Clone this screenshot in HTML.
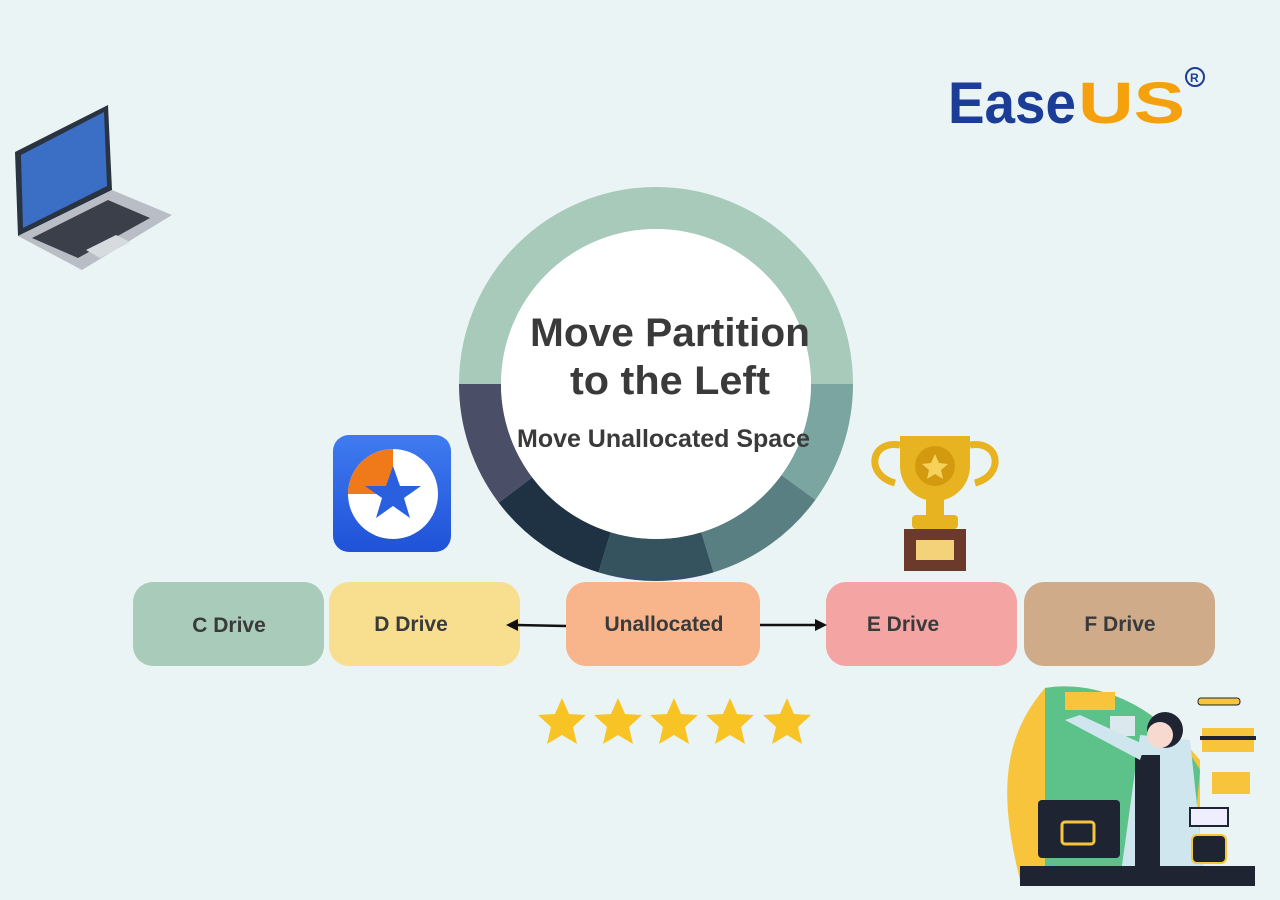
<!DOCTYPE html>
<html><head><meta charset="utf-8"><style>
html,body{margin:0;padding:0;background:#ebf4f5;}
svg{display:block}
text{font-family:"Liberation Sans",sans-serif;font-weight:bold}
</style></head><body>
<svg width="1280" height="900" viewBox="0 0 1280 900" xmlns="http://www.w3.org/2000/svg">
<rect width="1280" height="900" fill="#ebf4f5"/>
<!-- logo -->
<text x="948" y="123" font-size="58" fill="#1c3d97" style="font-weight:900" textLength="128" lengthAdjust="spacingAndGlyphs">Ease</text>
<text x="1078" y="123" font-size="58" fill="#f5a00d" style="font-weight:900" textLength="107" lengthAdjust="spacingAndGlyphs">US</text>
<circle cx="1195" cy="77" r="9" fill="none" stroke="#1c3d97" stroke-width="2"/>
<text x="1190" y="82" font-size="12" fill="#1c3d97">R</text>
<!-- laptop -->
<polygon points="15,152 108,105 112,190 18,236" fill="#2a3340"/>
<polygon points="21,155 104,112 107,186 23,228" fill="#3b6fc6"/>
<polygon points="18,236 112,190 172,215 82,270" fill="#b9bec6"/>
<polygon points="32,238 108,200 150,218 78,258" fill="#3a3f49"/>
<polygon points="86,250 116,235 130,242 100,258" fill="#d7dbe0"/>
<!-- ring -->
<g fill="none" stroke-width="42">
<path d="M480,384 A176,176 0 0 1 832,384" stroke="#a8cabb"/>
<path d="M832,384 A176,176 0 0 1 798.4,487.5" stroke="#7aa5a0"/>
<path d="M798.4,487.5 A176,176 0 0 1 707.4,552.3" stroke="#5a7f82"/>
<path d="M707.4,552.3 A176,176 0 0 1 604.6,552.3" stroke="#35535f"/>
<path d="M604.6,552.3 A176,176 0 0 1 515.4,490" stroke="#1f3244"/>
<path d="M515.4,490 A176,176 0 0 1 480,384" stroke="#4a4e66"/>
</g>
<circle cx="656" cy="384" r="155" fill="#fff"/>
<text x="530" y="346" font-size="40" fill="#3a3a3a" textLength="280" lengthAdjust="spacingAndGlyphs">Move Partition</text>
<text x="570" y="394" font-size="40" fill="#3a3a3a" textLength="200" lengthAdjust="spacingAndGlyphs">to the Left</text>
<text x="517" y="447" font-size="25" fill="#3a3a3a" textLength="293" lengthAdjust="spacingAndGlyphs">Move Unallocated Space</text>
<!-- app icon -->
<defs><linearGradient id="bg" x1="0" y1="0" x2="0" y2="1"><stop offset="0" stop-color="#3f7bf0"/><stop offset="1" stop-color="#1f52d8"/></linearGradient></defs>
<rect x="333" y="435" width="118" height="117" rx="16" fill="url(#bg)"/>
<circle cx="393" cy="494" r="45" fill="#fff"/>
<path d="M393,494 L348,494 A45,45 0 0 1 393,449 Z" fill="#f07a1a"/>
<polygon points="393,466 400,486 421,486 404,498 410,518 393,506 376,518 382,498 365,486 386,486" fill="#2a60e0"/>
<!-- trophy -->
<path d="M900,436 h70 v30 a35,35 0 0 1 -70,0 z" fill="#e8b320"/>
<circle cx="935" cy="466" r="20" fill="#d39a10"/>
<polygon points="935,454 939,463 948,464 941,470 943,479 935,474 927,479 929,470 922,464 931,463" fill="#f6d25a"/>
<path d="M900,445 c-30,-5 -35,30 -5,38" fill="none" stroke="#e8b320" stroke-width="7"/>
<path d="M970,445 c30,-5 35,30 5,38" fill="none" stroke="#e8b320" stroke-width="7"/>
<rect x="926" y="500" width="18" height="20" fill="#e8b320"/>
<rect x="912" y="515" width="46" height="14" rx="4" fill="#e8b320"/>
<rect x="904" y="529" width="62" height="42" fill="#6b3a2a"/>
<rect x="916" y="540" width="38" height="20" fill="#f4d27a"/>
<!-- drives -->
<rect x="133" y="582" width="191" height="84" rx="20" fill="#a9cbb9"/>
<rect x="329" y="582" width="191" height="84" rx="20" fill="#f7df8f"/>
<rect x="566" y="582" width="194" height="84" rx="20" fill="#f8b58c"/>
<rect x="826" y="582" width="191" height="84" rx="20" fill="#f5a4a4"/>
<rect x="1024" y="582" width="191" height="84" rx="20" fill="#cfab8a"/>
<g font-size="21" fill="#3a3a3a" text-anchor="middle">
<text x="229" y="632">C Drive</text>
<text x="411" y="631">D Drive</text>
<text x="664" y="631">Unallocated</text>
<text x="903" y="631">E Drive</text>
<text x="1120" y="631">F Drive</text>
</g>
<line x1="516" y1="625" x2="566" y2="626" stroke="#111" stroke-width="2.5"/>
<polygon points="506,625 518,619 518,631" fill="#111"/>
<line x1="760" y1="625" x2="816" y2="625" stroke="#111" stroke-width="2.5"/>
<polygon points="827,625 815,619 815,631" fill="#111"/>
<!-- stars -->
<g fill="#f7c325">
<polygon id="s" points="0,-24 7,-8 24,-7 11,5 15,22 0,13 -15,22 -11,5 -24,-7 -7,-8" transform="translate(562,722)"/>
<use href="#s" x="56"/><use href="#s" x="112"/><use href="#s" x="168"/><use href="#s" x="225"/>
</g>
<!-- person illustration -->
<path d="M1045,688 C1090,680 1150,700 1200,760 L1200,880 L1020,880 C1000,800 1000,740 1045,688 Z" fill="#f7c43c"/>
<path d="M1045,688 C1090,680 1160,700 1200,770 L1190,880 L1045,880 Z" fill="#5cc28a"/>
<rect x="1065" y="692" width="50" height="18" fill="#f7c43c"/>
<rect x="1110" y="716" width="25" height="20" fill="#dbe9ee"/>
<path d="M1140,735 L1190,740 L1205,880 L1120,880 Z" fill="#cfe6ee"/>
<rect x="1135" y="755" width="25" height="125" fill="#1f2433"/>
<circle cx="1165" cy="730" r="18" fill="#1f2433"/>
<circle cx="1160" cy="735" r="13" fill="#f8d9cf"/>
<polygon points="1065,720 1080,715 1145,745 1140,760" fill="#cfe6ee"/>
<rect x="1038" y="800" width="82" height="58" rx="4" fill="#1f2433"/>
<rect x="1062" y="822" width="32" height="22" rx="3" fill="none" stroke="#f7c43c" stroke-width="3"/>
<rect x="1020" y="866" width="235" height="20" fill="#1f2433"/>
<rect x="1190" y="808" width="38" height="18" fill="#eef" stroke="#1f2433" stroke-width="2"/>
<rect x="1192" y="835" width="34" height="28" rx="5" fill="#1f2433" stroke="#f7c43c" stroke-width="2"/>
<rect x="1212" y="772" width="38" height="22" fill="#f7c43c"/>
<rect x="1202" y="728" width="52" height="24" fill="#f7c43c"/>
<rect x="1200" y="736" width="56" height="4" fill="#1f2433"/>
<rect x="1198" y="698" width="42" height="7" rx="3" fill="#f7c43c" stroke="#1f2433" stroke-width="1"/>
</svg>
</body></html>
